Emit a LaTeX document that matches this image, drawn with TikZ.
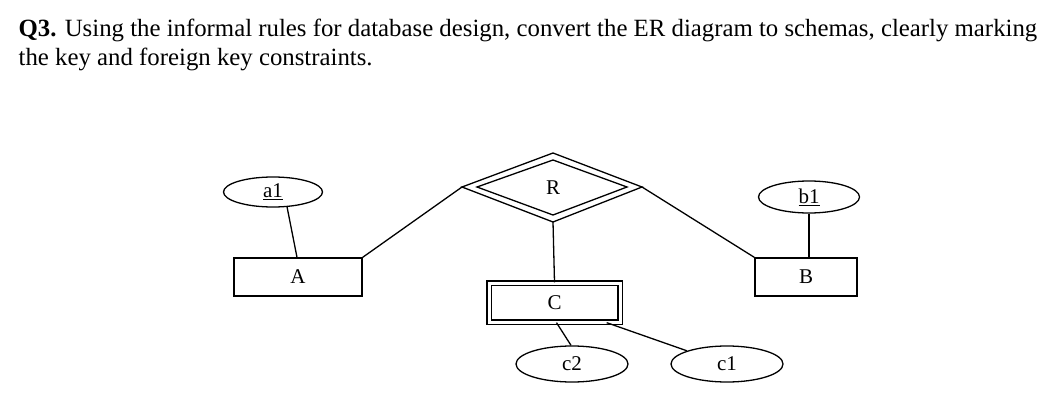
\documentclass[tikz,border=0pt]{standalone}
\usepackage{fontspec}
\setmainfont{Liberation Serif}
\usetikzlibrary{shapes.geometric,calc}
\begin{document}
\begin{tikzpicture}[x=1pt,y=-1pt,line width=1.3pt,
  attr/.style={draw,ellipse,inner sep=0pt,font=\fontsize{21}{21}\selectfont},
  ent/.style={draw,rectangle,inner sep=0pt,font=\fontsize{21}{21}\selectfont},
  wk/.style={ent,double,double distance=3pt}]
\useasboundingbox (0,0) rectangle (1059,417);
\node[anchor=north west,align=left,font=\fontsize{24.8}{29}\selectfont,inner sep=0pt] (q) at (18,18)
 {\textbf{Q3.} Using the informal rules for database design, convert the ER diagram to schemas, clearly marking\\the key and foreign key constraints.};
\node[attr,minimum width=99,minimum height=30] (a1) at (273,192) {\underline{a1}};
\node[ent,minimum width=128,minimum height=38] (A) at (298,277) {A};
\node[attr,minimum width=101,minimum height=32] (b1) at (809,197) {\underline{b1}};
\node[ent,minimum width=102,minimum height=38] (B) at (806,277) {B};
\node[wk,minimum width=131,minimum height=39] (C) at (554.5,302.5) {C};
\node[attr,minimum width=112,minimum height=36] (c2) at (572,364) {c2};
\node[attr,minimum width=112,minimum height=36] (c1) at (727,364) {c1};
\draw (462,187) coordinate (Rl) -- (553,153) -- (642,187) coordinate (Rr) -- (553,222) coordinate (Rb) -- cycle;
\draw (477,187) -- (553,160) -- (627,187) -- (553,215) -- cycle;
\node[font=\fontsize{21}{21}\selectfont] (R) at (553,188) {R};
\draw ($(a1.south)+(14,-1)$) -- ($(A.north)+(-1,0)$);
\draw (A.north east) -- (Rl);
\draw (Rr) -- (B.north west);
\draw (b1.south) -- (b1.south |- B.north);
\draw (Rb) -- (C.north);
\draw ($(C.south)+(2,0)$) -- ($(c2.north)+(-1,0)$);
\draw ($(C.south east)+(-14,0)$) -- (c1.north west);
\end{tikzpicture}
\end{document}
